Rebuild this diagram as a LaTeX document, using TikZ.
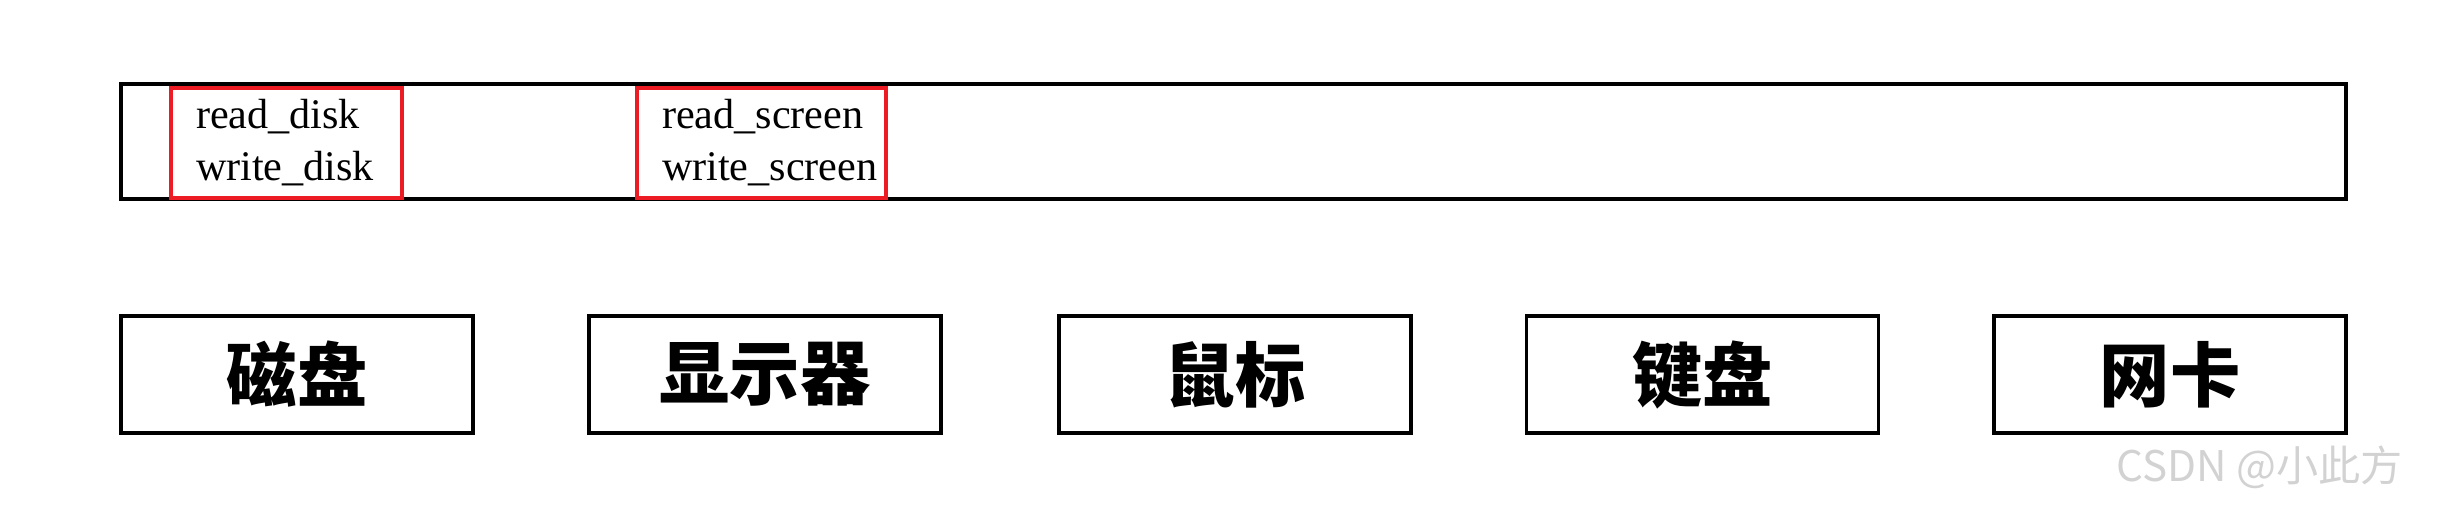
\documentclass[tikz,border=0pt]{standalone}
\usepackage{fontspec}
\setmainfont{Liberation Serif}
\newfontfamily\cjk{Noto Sans CJK SC}

\begin{document}
\begin{tikzpicture}[
    devbox/.style = {draw, line width=1.1pt, minimum width=3.52cm, minimum height=1.17cm,
                     font=\cjk\bfseries\fontsize{20}{24}\selectfont},
    fnbox/.style  = {draw=fnred, line width=1.2pt, minimum height=1.01cm, inner xsep=0.25cm,
                     align=left, font=\fontsize{12}{14.8}\selectfont}
  ]
    \definecolor{fnred}{RGB}{237,28,36}
    \useasboundingbox (0,0) rectangle (24.42,-5.22);

    % interface layer
    \node[draw, line width=1.1pt, minimum width=22.25cm, minimum height=1.15cm] (api) at (12.335,-1.415) {};
    \node[fnbox, text width=1.81cm] (diskfn) at (2.865,-1.43) {read\_disk\\write\_disk};
    \node[fnbox, text width=1.99cm] (screenfn) at (7.615,-1.43) {read\_screen\\write\_screen};

    % devices
    \foreach \name/\x/\txt in {disk/2.97/磁盘, screen/7.65/显示器, mouse/12.35/鼠标,
                               keyboard/17.025/键盘, nic/21.70/网卡}
        \node[devbox] (\name) at (\x,-3.745) {\txt};

    \node[text=gray!35, font=\cjk\fontsize{12}{13}\selectfont, anchor=east] (mark) at (24.15,-4.67) {CSDN @小此方};
\end{tikzpicture}
\end{document}
